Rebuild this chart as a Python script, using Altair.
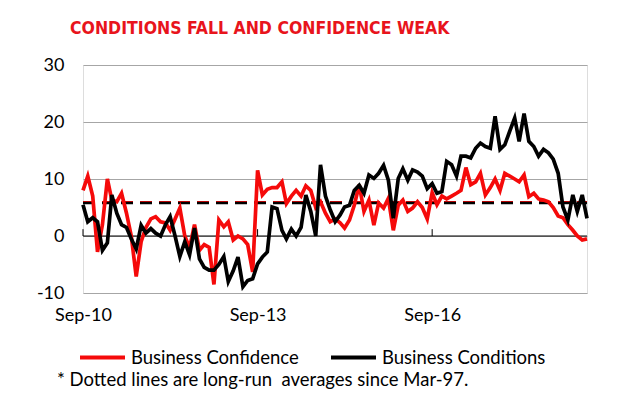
import altair as alt
import pandas as pd

# Monthly survey readings, Sep-10 onwards (net balance)
confidence = [8, 10.5, 7, -2.8, 2, 10, 6.3, 6, 7.5, 4, 0, -7.1, -1, 1.5, 3, 3.4, 2.5, 2.3, 1, 3,
              4.9, 0, -2.1, 2, -2.5, -1.5, -2, -8.5, 2.8, 1.6, 2.5, -0.7, 0, -0.5, -1.5, -6.3, 11.5, 7.2, 8.2, 8.5,
              8.5, 9.5, 5.7, 7, 8, 7, 8.8, 8, 5, 6, 4, 2.5, 3, 2.3, 1.4, 2.8, 5.4, 9, 4.3, 6.3,
              1.9, 5.8, 4.9, 6.6, 1, 5.4, 6.3, 4.3, 4.9, 6, 5, 3, 7.6, 5.5, 7, 6.5, 7, 7.5, 8, 12,
              9, 9.5, 11, 7.2, 8.5, 10, 8, 11, 10.5, 10, 9.5, 10.7, 6.9, 7.5, 6.5, 6.3, 6, 5, 3.5, 3.2,
              2, 1, 0, -0.7, -0.5]
conditions = [5.5, 2.5, 3.2, 2.5, -2.5, -1.2, 7.2, 4, 2, 1.5, -0.5, -2.3, 1.9, 0.5, 1.3, 0.5, 0, 2, 3.4, 0,
              -3.6, -1, -3.3, 1.4, -4, -5.5, -6, -6, -5, -3.6, -8, -6.1, -3.7, -8.9, -7.8, -7.5, -4.9, -3.7, -2.8, 5.1,
              4.8, 1, -0.5, 1.2, 0, 1.5, 7.2, 4.3, 0, 12.5, 7, 4.6, 2.5, 3.7, 5.1, 5.4, 8, 8.9, 7.5, 10.7,
              10.1, 11, 12.4, 9.8, 3.1, 10.1, 11.8, 9.8, 11.6, 11.2, 10.5, 8.3, 9.2, 7.5, 7.8, 13.1, 12.5, 10.5, 14, 14,
              13.7, 15.4, 16.3, 15.7, 15.4, 21, 15.2, 16, 18.4, 20.7, 16.6, 21.5, 16.6, 15.7, 14, 15.2, 14.6, 13.5, 11, 5.1,
              2.8, 7.2, 4.3, 7.2, 3.1]
series_names = ["Business Confidence", "Business Conditions"]
series_colors = ["#f50a0a", "#000000"]
long_run_avg = [5.9, 5.8]
tick_dates = ["2010-09-01", "2013-09-01", "2016-09-01"]
y_ticks = [-10, 0, 10, 20, 30]

dates = pd.date_range("2010-09-01", periods=len(confidence), freq="MS")
df = pd.concat([
    pd.DataFrame({"date": dates, "value": confidence, "series": series_names[0]}),
    pd.DataFrame({"date": dates, "value": conditions, "series": series_names[1]}),
])
avg_df = pd.DataFrame({"series": series_names, "avg": long_run_avg})
tick_df = pd.DataFrame({"date": pd.to_datetime(tick_dates), "y0": 0, "y1": 1.2})
zero_df = pd.DataFrame({"y": [0]})

FONT = "Lato"
xscale = alt.Scale(domain=[dates[0].isoformat(), dates[-1].isoformat()], nice=False)
yscale = alt.Scale(domain=[-10, 30], nice=False)
legend = alt.Legend(title=None, orient="none", legendX=-5, legendY=268,
                    direction="horizontal", symbolType="stroke",
                    symbolSize=2025, symbolStrokeWidth=4,
                    labelFont=FONT, labelFontSize=18.5, labelColor="#000000",
                    labelOffset=4, columnPadding=24, labelLimit=400)
color = alt.Color("series:N", scale=alt.Scale(domain=series_names, range=series_colors),
                  sort=series_names, legend=legend)

base_y = alt.Y("value:Q", scale=yscale,
               axis=alt.Axis(values=y_ticks, title=None, domain=False, ticks=False,
                             grid=True, gridColor="#a6a6a6", gridWidth=1,
                             labelExpr="'' + datum.value",
                             labelFont=FONT, labelFontSize=18, labelColor="#000000",
                             labelPadding=19))

lines = alt.Chart(df).mark_line(strokeWidth=3.7, strokeJoin="miter").encode(
    x=alt.X("date:T", scale=xscale,
            axis=alt.Axis(values=[pd.Timestamp(d).isoformat() for d in tick_dates],
                          format="%b-%y", title=None, domain=False, ticks=False, grid=False,
                          labelFont=FONT, labelFontSize=18, labelColor="#000000",
                          labelPadding=13, labelFlush=False)),
    y=base_y,
    color=color,
    order=alt.Order("series:N"),
)

zero = alt.Chart(zero_df).mark_rule(color="#000000", strokeWidth=1).encode(
    y=alt.Y("y:Q", scale=yscale), x=alt.value(0), x2=alt.value(504))

ticks = alt.Chart(tick_df).mark_rule(color="#000000", strokeWidth=1).encode(
    x=alt.X("date:T", scale=xscale), y=alt.Y("y0:Q", scale=yscale), y2="y1:Q")

avg = alt.Chart(avg_df).mark_rule(strokeWidth=2.5, strokeDash=[12, 7]).encode(
    y=alt.Y("avg:Q", scale=yscale),
    x=alt.value(0), x2=alt.value(504),
    color=color,
)

note = alt.Chart(zero_df).mark_text(
    text="* Dotted lines are long-run\u00a0 averages since Mar-97.", align="left",
    baseline="middle", font=FONT, fontSize=18.5, color="#000000"
).encode(x=alt.value(-26), y=alt.value(315))

chart = alt.layer(avg, zero, ticks, lines, note).properties(
    width=504, height=228,
    title=alt.TitleParams("CONDITIONS FALL AND CONFIDENCE WEAK", anchor="start", frame="group",
                          font="DejaVu Sans Condensed", fontSize=17.5, fontWeight="bold",
                          color="#e8141c", dx=-13, offset=19),
    autosize=alt.AutoSizeParams(type="none"),
    padding={"left": 83, "top": 65, "right": 54, "bottom": 118},
).configure_view(stroke=None).configure(background="#ffffff")

chart.save("out.html", embed_options={"renderer": "svg", "actions": False})
